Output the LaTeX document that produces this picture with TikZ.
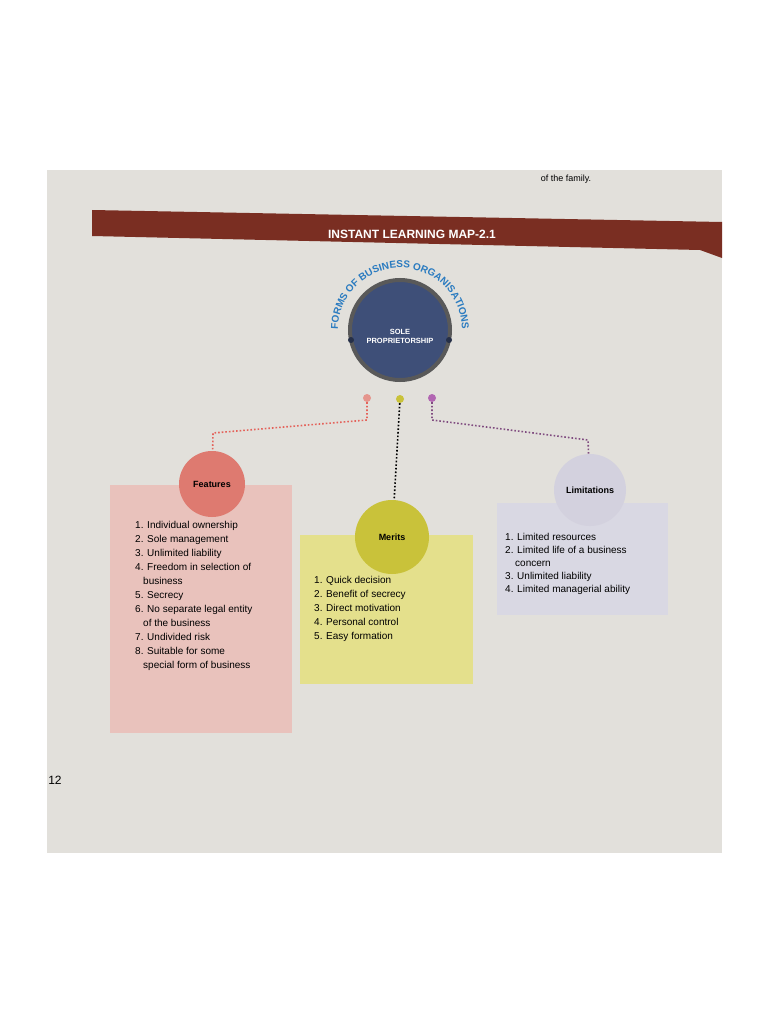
\documentclass[tikz,border=0pt]{standalone}
\usepackage{fontspec}
\setmainfont{Liberation Sans}
\usetikzlibrary{decorations.text}
\definecolor{pagebg}{HTML}{E2E0DB}
\definecolor{banner}{HTML}{7A2E22}
\definecolor{featc}{HTML}{DE7A70}
\definecolor{featb}{HTML}{E9C2BC}
\definecolor{meric}{HTML}{C9C23A}
\definecolor{merib}{HTML}{E4E08C}
\definecolor{limc}{HTML}{D3D1DE}
\definecolor{limb}{HTML}{D9D8E3}
\definecolor{hub}{HTML}{3E4F78}
\definecolor{arcblue}{HTML}{2A7BC0}
\tikzset{
  head/.style={circle,minimum size=#1,inner sep=0pt,font=\fontsize{9}{10}\selectfont\bfseries},
  lst/.style={align=left,anchor=north west,font=\fontsize{10}{14}\selectfont,inner sep=0pt},
  conn/.style={dotted,line width=1.6pt},
}
\begin{document}
\begin{tikzpicture}[x=1pt,y=-1pt]
\useasboundingbox (0,0) rectangle (768,1024);
\fill[white] (0,0) rectangle (768,1024);
\fill[pagebg] (47,170) rectangle (722,853);
\node[font=\fontsize{9}{10}\selectfont\rmfamily] (fam) at (566,179) {of the family.};
\node[font=\fontsize{12}{12}\selectfont] (pg) at (55,780) {12};
% banner
\fill[banner] (92,210) -- (722,222) -- (722,258) -- (700,250) -- (92,236) -- cycle;
\node[white,font=\fontsize{12}{12}\selectfont\bfseries] (title) at (412,234) {INSTANT LEARNING MAP-2.1};
% hub
\node[circle,fill=hub,draw=gray!70!black,line width=4pt,minimum size=100pt] (hubn) at (400,330) {};
\node[white,align=center,font=\fontsize{7.5}{9}\selectfont\bfseries] (hubt) at (400,336) {SOLE\\PROPRIETORSHIP};
\fill[hub!60!black] (351,340) circle (3pt) (449,340) circle (3pt);
\begin{scope}[shift={(400,330)},y=1pt]
\path[decorate,decoration={text along path,text align=center,text={|\fontsize{10}{10}\selectfont\bfseries\color{arcblue}|FORMS OF BUSINESS ORGANISATIONS}}]
  (198:62) arc[start angle=198,end angle=-18,radius=62];
\end{scope}
% dots
\node[circle,fill=featc!80,minimum size=8pt,inner sep=0pt] (d1) at (367,398) {};
\node[circle,fill=meric,minimum size=8pt,inner sep=0pt] (d2) at (400,399) {};
\node[circle,fill=violet!60,minimum size=8pt,inner sep=0pt] (d3) at (432,398) {};
% boxes
\fill[featb] (110,485) rectangle (292,733);
\fill[merib] (300,535) rectangle (473,684);
\fill[limb] (497,503) rectangle (668,615);
\node[head=66pt,fill=featc] (feat) at (212,484) {Features};
\node[head=74pt,fill=meric] (meri) at (392,537) {Merits};
\node[head=72pt,fill=limc] (lim) at (590,490) {Limitations};
% connectors
\draw[conn,featc!80!red] (d1) -- (367,420) -- (213,433) -- (feat);
\draw[conn,black] (d2) -- (meri);
\draw[conn,gray!60!violet] (d3) -- (432,420) -- (588,440) -- (lim);
% lists
\node[lst] (fl) at (135,521) {1. Individual ownership\\2. Sole management\\3. Unlimited liability\\4. Freedom in selection of\\\hspace*{8pt}business\\5. Secrecy\\6. No separate legal entity\\\hspace*{8pt}of the business\\7. Undivided risk\\8. Suitable for some\\\hspace*{8pt}special form of business};
\node[lst] (ml) at (314,576) {1. Quick decision\\2. Benefit of secrecy\\3. Direct motivation\\4. Personal control\\5. Easy formation};
\node[lst,font=\fontsize{10}{13}\selectfont] (ll) at (505,533) {1. Limited resources\\2. Limited life of a business\\\hspace*{10pt}concern\\3. Unlimited liability\\4. Limited managerial ability};
\end{tikzpicture}
\end{document}
